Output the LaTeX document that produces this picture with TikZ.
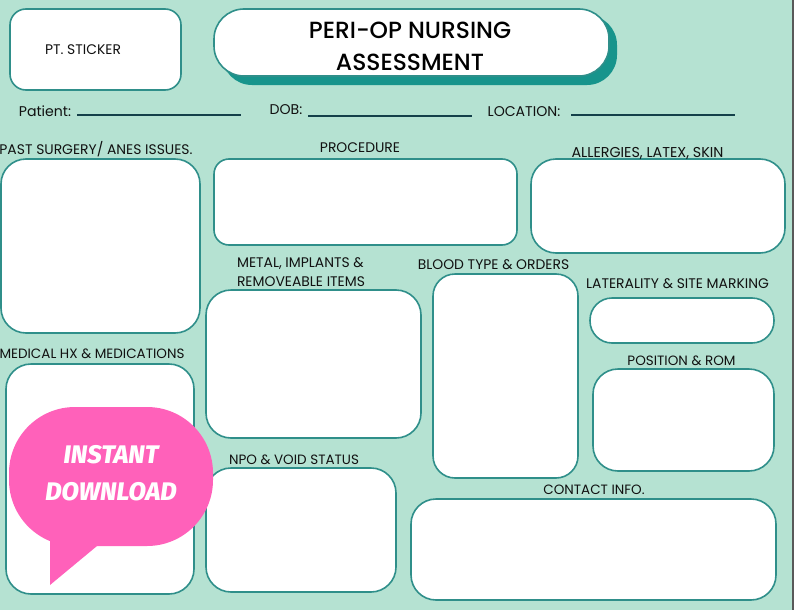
\documentclass[tikz,border=0pt]{standalone}
\usepackage{fontspec}
\setmainfont{Poppins}
\newfontfamily\titlefont{Poppins Medium}
\newfontfamily\stampfont{Fira Sans}[UprightFont=* ExtraBold Italic]
\definecolor{bgmint}{HTML}{B5E2D2}
\definecolor{tealline}{HTML}{2F8F8A}
\definecolor{tealshadow}{HTML}{17948C}
\definecolor{inkline}{HTML}{14404A}
\definecolor{pinkbubble}{HTML}{FF61BA}
\definecolor{inktext}{HTML}{111111}
\tikzset{
  x=1pt,y=-1pt,
  formbox/.style={draw=tealline,line width=1.6pt,fill=white},
  lbl/.style={font=\fontsize{13.9}{17}\selectfont,text=inktext,inner sep=0pt,anchor=center,align=left},
  lblsmall/.style={lbl,font=\fontsize{13.5}{17}\selectfont},
  fieldlbl/.style={font=\fontsize{14.1}{17}\selectfont,text=inktext,inner sep=0pt,anchor=center},
  rule/.style={draw=inkline,line width=1.4pt},
  ttl/.style={font=\titlefont\fontsize{23.4}{32}\selectfont,text=black,inner sep=0pt,align=center,anchor=center},
  stamp/.style={font=\stampfont\fontsize{25.4}{25}\selectfont,text=white,inner sep=0pt,anchor=center}
}
\newcommand{\fbx}[6]{\draw[formbox,rounded corners=#6pt] (#2,#3) rectangle (#4,#5) coordinate (#1);}
\begin{document}
\begin{tikzpicture}
\useasboundingbox (0,0) rectangle (794,610);
\fill[bgmint] (0,0) rectangle (794,610);
\fill[gray!70!black] (792,0) rectangle (794,610);
% title
\fill[tealshadow,rounded corners=30pt] (222,15) rectangle (617,85);
\fbx{titlebox}{214}{9}{609}{76}{30}
\fbx{sticker}{10}{9}{181}{90}{16}
\node[ttl] (title) at (410,46.5) {PERI-OP NURSING\\ASSESSMENT};
\node[lbl] (stickertext) at (83,50) {PT. STICKER};
% fields
\node[fieldlbl] (patient) at (45,111) {Patient:};
\node[fieldlbl] (dob) at (286,110) {DOB:};
\node[fieldlbl] (location) at (524,111.5) {LOCATION:};
\draw[rule] (77,115) -- (241,115);
\draw[rule] (308,116) -- (472,116);
\draw[rule] (571,115) -- (735,115);
% boxes
\fbx{past}{1}{159}{200}{333}{25}
\fbx{procedure}{214}{159}{517}{245}{15}
\fbx{allergies}{531}{159}{785}{253}{25}
\fbx{metal}{206}{290}{421}{438}{25}
\fbx{blood}{433}{274}{578}{478}{22}
\fbx{laterality}{590}{298}{774}{343}{22}
\fbx{position}{593}{369}{774}{471}{25}
\fbx{medical}{6}{364}{194}{594}{25}
\fbx{npo}{206}{468}{396}{592}{25}
\fbx{contact}{411}{499}{776}{600}{25}
% labels
\node[lbl] (l1) at (96,149.5) {PAST SURGERY/ ANES ISSUES.};
\node[lbl] (l2) at (360,148) {PROCEDURE};
\node[lbl,font=\fontsize{14.3}{17}\selectfont] (l3) at (647.5,153) {ALLERGIES, LATEX, SKIN};
\node[lbl,align=left,font=\fontsize{13.9}{19}\selectfont] (l4) at (301,272.5) {METAL, IMPLANTS \&\\REMOVEABLE ITEMS};
\node[lbl] (l5) at (493.5,265) {BLOOD TYPE \& ORDERS};
\node[lbl] (l6) at (677.5,284) {LATERALITY \& SITE MARKING};
\node[lblsmall] (l7) at (92,354) {MEDICAL HX \& MEDICATIONS};
\node[lblsmall] (l8) at (681.5,361) {POSITION \& ROM};
\node[lblsmall] (l9) at (294,460) {NPO \& VOID STATUS};
\node[lblsmall] (l10) at (594,490) {CONTACT INFO.};
% bubble
\fill[pinkbubble,rounded corners=66pt] (9,407) rectangle (213,546);
\fill[pinkbubble] (50,530) -- (50,585) -- (97,546) -- (110,530) -- cycle;
\node[stamp] (s1) at (111,455) {INSTANT};
\node[stamp] (s2) at (111,492) {DOWNLOAD};
\end{tikzpicture}
\end{document}
